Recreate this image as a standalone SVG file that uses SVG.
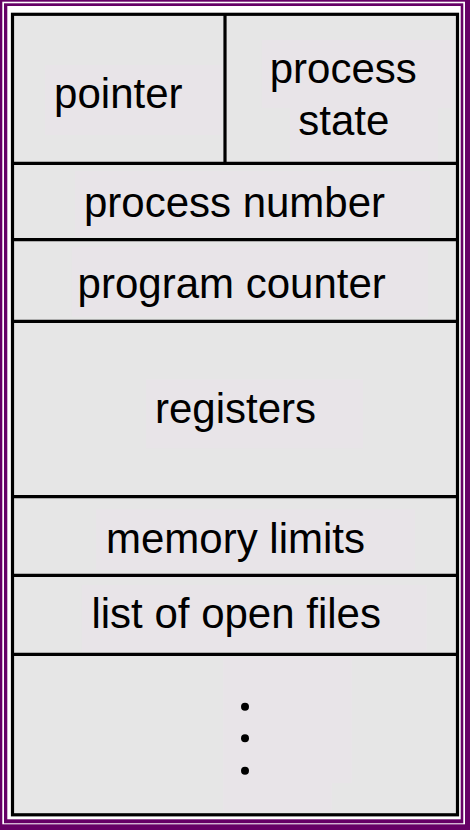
<svg xmlns="http://www.w3.org/2000/svg" width="470" height="830" viewBox="0 0 470 830">
<style>
.lbl{font-family:"Liberation Sans",Arial,Helvetica,sans-serif;font-size:42px;fill:#000;text-anchor:middle}
.tb{fill:#e8e4e8}
.div{stroke:#000;stroke-width:3.2;fill:none}
</style>
<g id="frame">
<rect x="0" y="0" width="470" height="830" fill="#660066"/>
<rect x="2.3" y="1.7" width="462.7" height="822.6" fill="#fff"/>
<rect x="4" y="3.3" width="459.3" height="820" fill="#660066"/>
<rect x="7.3" y="6" width="453.4" height="813.3" fill="#fff"/>
<rect x="12.5" y="14.3" width="445" height="800.5" fill="#e6e6e6" stroke="#000" stroke-width="3.2"/>
</g>
<g id="text-backgrounds">
<rect class="tb" x="45" y="65" width="176.7" height="70"/>
<rect class="tb" x="261.7" y="40" width="190" height="68"/>
<rect class="tb" x="290" y="108" width="148" height="53"/>
<rect class="tb" x="75" y="171" width="355" height="65.7"/>
<rect class="tb" x="71.7" y="246.7" width="356.3" height="70"/>
<rect class="tb" x="146" y="379.3" width="217" height="69"/>
<rect class="tb" x="96" y="509" width="319" height="61"/>
<rect class="tb" x="81.7" y="585" width="345" height="66.7"/>
<rect class="tb" x="223.3" y="657" width="128.4" height="126"/>
<rect class="tb" x="223.3" y="783" width="108.4" height="29"/>
</g>
<g id="connectors">
<line class="div" x1="225" y1="14.3" x2="225" y2="163.3"/>
<line class="div" x1="12.5" y1="163.3" x2="457.5" y2="163.3"/>
<line class="div" x1="12.5" y1="239.7" x2="457.5" y2="239.7"/>
<line class="div" x1="12.5" y1="321.3" x2="457.5" y2="321.3"/>
<line class="div" x1="12.5" y1="496.7" x2="457.5" y2="496.7"/>
<line class="div" x1="12.5" y1="575.3" x2="457.5" y2="575.3"/>
<line class="div" x1="12.5" y1="654.3" x2="457.5" y2="654.3"/>
</g>
<g id="node-pointer"><text class="lbl" x="118.3" y="108.3">pointer</text></g>
<g id="node-process-state"><text class="lbl" x="343.3" y="83.3">process</text><text class="lbl" x="343.8" y="135">state</text></g>
<g id="node-process-number"><text class="lbl" x="234.5" y="216.7">process number</text></g>
<g id="node-program-counter"><text class="lbl" x="231.7" y="298.3">program counter</text></g>
<g id="node-registers"><text class="lbl" x="235.5" y="423.3">registers</text></g>
<g id="node-memory-limits"><text class="lbl" x="235.5" y="553.3">memory limits</text></g>
<g id="node-open-files"><text class="lbl" x="236.2" y="628.3">list of open files</text></g>
<g id="node-more">
<circle cx="245" cy="706.7" r="4"/>
<circle cx="245" cy="738.3" r="4"/>
<circle cx="245" cy="770.7" r="4"/>
</g>
</svg>
